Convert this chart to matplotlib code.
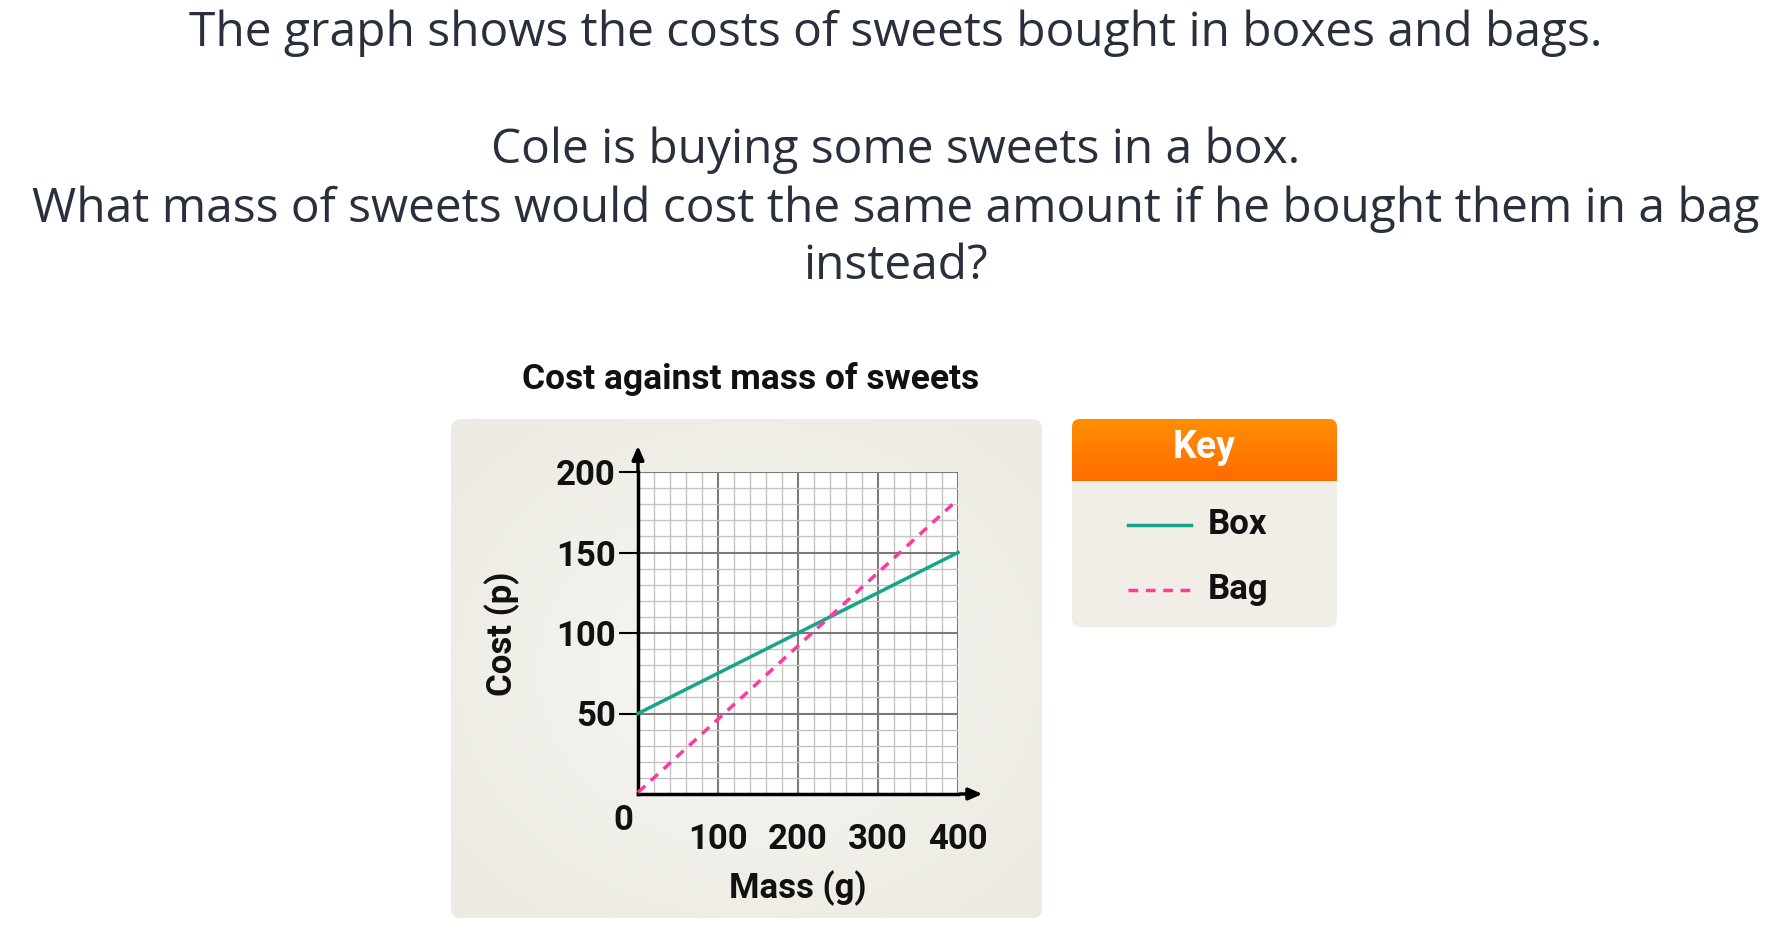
import matplotlib
matplotlib.use("Agg")
import matplotlib.pyplot as plt
import numpy as np
from matplotlib import font_manager
from matplotlib.patches import FancyBboxPatch
from matplotlib.lines import Line2D

# ---------------- data ----------------
box_mass = [0, 400]
box_cost = [50, 150]
bag_mass = [0, 400]
bag_cost = [1, 183]
x_ticks = [100, 200, 300, 400]
y_ticks = [50, 100, 150, 200]
series_names = ["Box", "Bag"]
question_lines = [
    "The graph shows the costs of sweets bought in boxes and bags.",
    "Cole is buying some sweets in a box.",
    "What mass of sweets would cost the same amount if he bought them in a bag",
    "instead?",
]
chart_title = "Cost against mass of sweets"
x_label = "Mass (g)"
y_label = "Cost (p)"

# ---------------- fonts ----------------
avail = {f.name for f in font_manager.fontManager.ttflist}
cond = "Liberation Sans Narrow" if "Liberation Sans Narrow" in avail else "Roboto"
qfont = "Open Sans"

W, H = 1792, 940
fig = plt.figure(figsize=(W / 100, H / 100), dpi=100)
fig.patch.set_facecolor("white")

def fx(px):
    return px / W

def fy(py):
    return 1 - py / H

TEXT = "#2a2f3e"
TEAL = "#17a589"
PINK = "#ff3a9e"
DASH = (0, (2.8, 2.2))
QS = 34.5

# question text
for txt, ypx in zip(question_lines, [33, 150, 209, 266]):
    fig.text(fx(896), fy(ypx), txt, ha="center", va="center",
             fontsize=QS, color=TEXT, family=qfont)

# chart title
fig.text(fx(751), fy(379), chart_title, ha="center", va="center",
         fontsize=25.5, fontweight="bold", color="#111111", family=cond)

# panel background with radial gradient
bg_ax = fig.add_axes([0, 0, 1, 1], zorder=0)
bg_ax.set_xlim(0, W)
bg_ax.set_ylim(H, 0)
bg_ax.axis("off")
px0, px1, py0, py1 = 451, 1042, 419, 918
yy, xx = np.mgrid[0:200, 0:200]
r = np.sqrt(((xx - 100) / 100) ** 2 + ((yy - 100) / 100) ** 2)
r = np.clip(r / 1.3, 0, 1)
c_center = np.array([0xf8, 0xf7, 0xf3]) / 255
c_edge = np.array([0xec, 0xea, 0xe2]) / 255
img = c_center[None, None, :] * (1 - r[..., None]) + c_edge[None, None, :] * r[..., None]
panel = FancyBboxPatch((px0, py0), px1 - px0, py1 - py0,
                       boxstyle="round,pad=0,rounding_size=10",
                       facecolor="none", edgecolor="none")
bg_ax.add_patch(panel)
im = bg_ax.imshow(img, extent=(px0, px1, py1, py0), aspect="auto", zorder=0)
im.set_clip_path(panel)

# key box
kx0, kx1, ky0, ky1, kh = 1072, 1337, 419, 627, 481
key_body = FancyBboxPatch((kx0, ky0), kx1 - kx0, ky1 - ky0,
                          boxstyle="round,pad=0,rounding_size=8",
                          facecolor="#f0eee6", edgecolor="none")
bg_ax.add_patch(key_body)
gy = np.linspace(0, 1, 50)[:, None, None]
top_c = np.array([0xff, 0x8e, 0x00]) / 255
bot_c = np.array([0xff, 0x6c, 0x00]) / 255
hdr = top_c * (1 - gy) + bot_c * gy
hdr = np.repeat(hdr, 2, axis=1)
him = bg_ax.imshow(hdr, extent=(kx0, kx1, kh, ky0), aspect="auto", zorder=1)
him.set_clip_path(key_body)
bg_ax.set_xlim(0, W)
bg_ax.set_ylim(H, 0)
fig.text(fx(1204), fy(448), "Key", ha="center", va="center", fontsize=27,
         fontweight="bold", color="white", family=cond)
fig.add_artist(Line2D([fx(1128), fx(1191)], [fy(525), fy(525)], color=TEAL, lw=2.5))
fig.add_artist(Line2D([fx(1128), fx(1191)], [fy(590), fy(590)], color=PINK, lw=2.5,
                      linestyle=DASH))
fig.text(fx(1208), fy(525), series_names[0], ha="left", va="center", fontsize=25,
         fontweight="bold", color="#111111", family=cond)
fig.text(fx(1208), fy(590), series_names[1], ha="left", va="center", fontsize=25,
         fontweight="bold", color="#111111", family=cond)

# main axes
ox, oy, tx, ty = 638, 794, 958, 472
ax = fig.add_axes([fx(ox), fy(oy), (tx - ox) / W, (oy - ty) / H], zorder=2)
ax.set_facecolor("white")
ax.set_xlim(0, 400)
ax.set_ylim(0, 200)
ax.set_xticks(np.arange(0, 401, 20), minor=True)
ax.set_yticks(np.arange(0, 201, 10), minor=True)
ax.set_xticks(x_ticks)
ax.set_yticks(y_ticks)
ax.set_xticklabels([str(v) for v in x_ticks])
ax.set_yticklabels([str(v) for v in y_ticks])
ax.grid(which="minor", color="#c4c4c4", lw=1.0)
ax.grid(which="major", color="#7a7a7a", lw=1.5)
ax.set_axisbelow(True)
for s in ["top", "right"]:
    ax.spines[s].set_visible(False)
for s in ["left", "bottom"]:
    ax.spines[s].set_linewidth(2.5)
    ax.spines[s].set_color("black")
ax.tick_params(axis="both", which="minor", length=0)
ax.tick_params(axis="y", which="major", length=14, width=1.5, direction="out",
               labelsize=25, pad=2)
ax.tick_params(axis="x", which="major", length=0, labelsize=25, pad=21)
for lab in ax.get_xticklabels() + ax.get_yticklabels():
    lab.set_family(cond)
    lab.set_fontweight("bold")
    lab.set_color("#111111")

ax.plot(box_mass, box_cost, color=TEAL, lw=2.5, clip_on=False, zorder=3)
ax.plot(bag_mass, bag_cost, color=PINK, lw=2.5, linestyle=DASH,
        clip_on=False, zorder=3)

# axis arrows
ax.annotate("", xy=(0, 218), xytext=(0, 199), xycoords="data",
            arrowprops=dict(arrowstyle="-|>,head_length=0.8,head_width=0.35",
                            color="black", lw=2.5), annotation_clip=False)
ax.annotate("", xy=(434, 0), xytext=(399, 0), xycoords="data",
            arrowprops=dict(arrowstyle="-|>,head_length=0.8,head_width=0.35",
                            color="black", lw=2.5), annotation_clip=False)

fig.text(fx(623), fy(820), "0", ha="center", va="center", fontsize=25,
         fontweight="bold", color="#111111", family=cond)
fig.text(fx(798), fy(888), x_label, ha="center", va="center", fontsize=25,
         fontweight="bold", color="#111111", family=cond)
fig.text(fx(502), fy(634), y_label, ha="center", va="center", fontsize=25,
         fontweight="bold", color="#111111", family=cond, rotation=90)

fig.savefig("out.png", dpi=100)
